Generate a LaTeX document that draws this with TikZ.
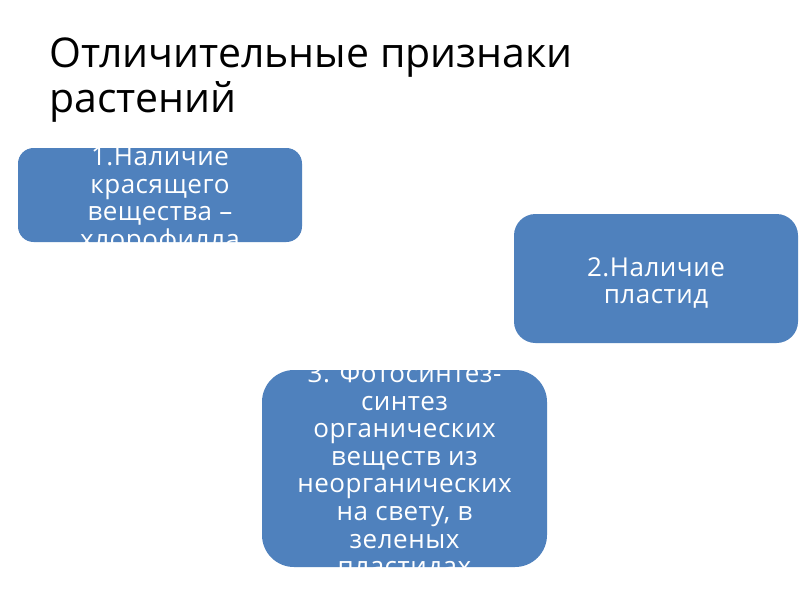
\documentclass[tikz,border=0pt]{standalone}
\usepackage{fontspec}
\setmainfont{Open Sans}
\newfontfamily\boxfont[LetterSpace=2]{Open Sans}
\definecolor{boxblue}{HTML}{4F81BD}
\tikzset{
  panel/.style={fill=boxblue, draw=none, inner sep=0pt},
  paneltext/.style={text=white, align=center, inner sep=0pt, anchor=north,
    font=\boxfont\fontsize{26}{27.6}\selectfont},
  titletext/.style={anchor=base west, inner sep=0pt, align=left,
    font=\fontsize{41}{45}\selectfont}
}
\begin{document}
\begin{tikzpicture}[x=1pt,y=-1pt]
\useasboundingbox (0,0) rectangle (800,600);
\fill[white] (0,0) rectangle (800,600);
% title
\node[titletext] (title) at (49,112) {Отличительные признаки\\растений};
% box 1
\node[panel, minimum width=284pt, minimum height=94pt, rounded corners=15.6pt] (b1) at (160,195) {};
\begin{scope}
\clip[rounded corners=15.6pt] (b1.south west) rectangle (b1.north east);
\node[paneltext] (t1) at (160,147) {1.Наличие\\красящего\\вещества –\\хлорофилла};
\end{scope}
% box 2
\node[panel, minimum width=284pt, minimum height=129pt, rounded corners=21.5pt] (b2) at (656,278.5) {};
\begin{scope}
\clip[rounded corners=21.5pt] (b2.south west) rectangle (b2.north east);
\node[paneltext] (t2) at (656,257) {2.Наличие\\пластид};
\end{scope}
% box 3
\node[panel, minimum width=285pt, minimum height=197pt, rounded corners=32pt] (b3) at (404.5,468.5) {};
\begin{scope}
\clip[rounded corners=32pt] (b3.south west) rectangle (b3.north east);
\node[paneltext] (t3) at (404.5,363.5) {3. Фотосинтез-\\синтез\\органических\\веществ из\\неорганических\\на свету, в\\зеленых\\пластидах};
\end{scope}
\end{tikzpicture}
\end{document}
